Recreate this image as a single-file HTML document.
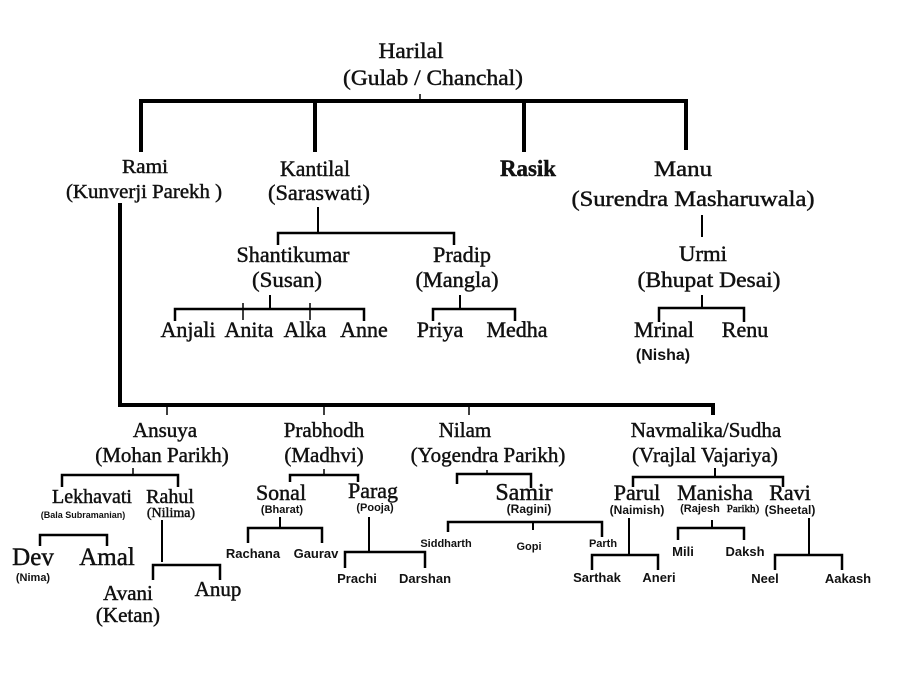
<!DOCTYPE html>
<html><head><meta charset="utf-8"><style>
html,body{margin:0;padding:0;background:#fff;}
svg{display:block;}
.s{font-family:"Liberation Serif",serif;fill:#111;stroke:#111;stroke-width:0.45;}
.b{font-family:"Liberation Sans",sans-serif;font-weight:bold;fill:#111;}
</style></head><body>
<svg width="900" height="700" viewBox="0 0 900 700" xmlns="http://www.w3.org/2000/svg">
<rect width="900" height="700" fill="#fff"/>
<g stroke="#000" fill="none">
<line x1="420" y1="94" x2="420" y2="101" stroke-width="1.5"/>
<path d="M141 152 V101 H686 V150" stroke-width="4"/>
<line x1="315" y1="101" x2="315" y2="152" stroke-width="4"/>
<line x1="524" y1="101" x2="524" y2="152" stroke-width="4"/>
<line x1="318" y1="207" x2="318" y2="233" stroke-width="2"/>
<path d="M278 245 V233 H454 V245" stroke-width="2.5"/>
<line x1="270" y1="295" x2="270" y2="309" stroke-width="2"/>
<path d="M175 321 V309 H364 V321" stroke-width="2.5"/>
<line x1="243" y1="303" x2="243" y2="320" stroke-width="1.5"/>
<line x1="310" y1="303" x2="310" y2="320" stroke-width="1.5"/>
<line x1="460" y1="295" x2="460" y2="309" stroke-width="2"/>
<path d="M433 321 V309 H515 V321" stroke-width="2.5"/>
<line x1="702" y1="215" x2="702" y2="237" stroke-width="2"/>
<line x1="702" y1="295" x2="702" y2="308" stroke-width="2"/>
<path d="M659 322 V308 H744 V322" stroke-width="2.5"/>
<path d="M120 203 V405 H713 V415" stroke-width="4"/>
<line x1="167" y1="405" x2="167" y2="415" stroke-width="1.5"/>
<line x1="324" y1="405" x2="324" y2="415" stroke-width="1.5"/>
<line x1="469" y1="405" x2="469" y2="415" stroke-width="1.5"/>
<line x1="133" y1="468" x2="133" y2="475" stroke-width="1.5"/>
<path d="M62 487 V475 H178 V487" stroke-width="2.5"/>
<path d="M40 546 V535 H107 V546" stroke-width="2.5"/>
<line x1="162" y1="520" x2="162" y2="562" stroke-width="2"/>
<path d="M153 580 V565 H220 V580" stroke-width="2.5"/>
<line x1="324" y1="469" x2="324" y2="475" stroke-width="1.5"/>
<path d="M290 482 V475 H358 V482" stroke-width="2.5"/>
<line x1="280" y1="517" x2="280" y2="528" stroke-width="2"/>
<path d="M248 543 V528 H322 V543" stroke-width="2.5"/>
<line x1="369" y1="517" x2="369" y2="552" stroke-width="2"/>
<path d="M345 568 V552 H425 V568" stroke-width="2.5"/>
<line x1="487" y1="470" x2="487" y2="474" stroke-width="1.5"/>
<path d="M457 484 V474 H531 V488" stroke-width="2.5"/>
<path d="M448 532 V522 H602 V537" stroke-width="2.5"/>
<line x1="533" y1="522" x2="533" y2="530" stroke-width="2"/>
<line x1="715" y1="468" x2="715" y2="477" stroke-width="2"/>
<path d="M633 487 V477 H783 V487" stroke-width="2.5"/>
<line x1="629" y1="518" x2="629" y2="555" stroke-width="2"/>
<path d="M592 570 V555 H658 V570" stroke-width="2.5"/>
<line x1="712" y1="520" x2="712" y2="528" stroke-width="2"/>
<path d="M678 540 V528 H744 V540" stroke-width="2.5"/>
<line x1="809" y1="518" x2="809" y2="555" stroke-width="2"/>
<path d="M775 570 V555 H842 V570" stroke-width="2.5"/>
</g>
<g class="s" text-anchor="middle" font-size="22">
<text x="411" y="58" textLength="65" lengthAdjust="spacingAndGlyphs">Harilal</text>
<text x="433" y="85" textLength="180" lengthAdjust="spacingAndGlyphs">(Gulab / Chanchal)</text>
<text x="145" y="173" font-size="20" textLength="46" lengthAdjust="spacingAndGlyphs">Rami</text>
<text x="144" y="198" font-size="20" textLength="156" lengthAdjust="spacingAndGlyphs">(Kunverji Parekh )</text>
<text x="315" y="176" textLength="70" lengthAdjust="spacingAndGlyphs">Kantilal</text>
<text x="319" y="200" textLength="102" lengthAdjust="spacingAndGlyphs">(Saraswati)</text>
<text x="528" y="176" font-weight="bold" font-size="23" textLength="56" lengthAdjust="spacingAndGlyphs">Rasik</text>
<text x="683" y="176" textLength="58" lengthAdjust="spacingAndGlyphs">Manu</text>
<text x="693" y="206" textLength="243" lengthAdjust="spacingAndGlyphs">(Surendra Masharuwala)</text>
<text x="293" y="262" textLength="113" lengthAdjust="spacingAndGlyphs">Shantikumar</text>
<text x="287" y="287" textLength="70" lengthAdjust="spacingAndGlyphs">(Susan)</text>
<text x="462" y="262" textLength="58" lengthAdjust="spacingAndGlyphs">Pradip</text>
<text x="457" y="287" textLength="83" lengthAdjust="spacingAndGlyphs">(Mangla)</text>
<text x="703" y="261" textLength="48" lengthAdjust="spacingAndGlyphs">Urmi</text>
<text x="709" y="287" textLength="143" lengthAdjust="spacingAndGlyphs">(Bhupat Desai)</text>
<text x="188" y="337">Anjali</text>
<text x="249" y="337">Anita</text>
<text x="305" y="337">Alka</text>
<text x="364" y="337">Anne</text>
<text x="440" y="337">Priya</text>
<text x="517" y="337">Medha</text>
<text x="664" y="337">Mrinal</text>
<text x="745" y="337">Renu</text>
<text x="165" y="437" font-size="21">Ansuya</text>
<text x="162" y="462" font-size="21">(Mohan Parikh)</text>
<text x="324" y="437" font-size="21">Prabhodh</text>
<text x="324" y="462" font-size="21">(Madhvi)</text>
<text x="465" y="437" font-size="21">Nilam</text>
<text x="488" y="462" font-size="21">(Yogendra Parikh)</text>
<text x="706" y="437" font-size="21">Navmalika/Sudha</text>
<text x="705" y="462" font-size="21">(Vrajlal Vajariya)</text>
<text x="92" y="503" font-size="20">Lekhavati</text>
<text x="170" y="503" font-size="20">Rahul</text>
<text x="171" y="517" font-size="14">(Nilima)</text>
<text x="33" y="565" font-size="25">Dev</text>
<text x="107" y="565" font-size="25">Amal</text>
<text x="128" y="600" font-size="21">Avani</text>
<text x="128" y="622" font-size="21">(Ketan)</text>
<text x="218" y="596" font-size="21">Anup</text>
<text x="281" y="500" font-size="22">Sonal</text>
<text x="373" y="498" font-size="22">Parag</text>
<text x="524" y="500" font-size="24">Samir</text>
<text x="637" y="500" font-size="22">Parul</text>
<text x="715" y="500" font-size="22">Manisha</text>
<text x="790" y="500" font-size="22">Ravi</text>
<text x="743" y="512" font-size="11">Parikh)</text>
</g>
<g class="b" text-anchor="middle" font-size="13">
<text x="663" y="360" font-size="16">(Nisha)</text>
<text x="83" y="518" font-size="9">(Bala Subramanian)</text>
<text x="33" y="581" font-size="11">(Nima)</text>
<text x="282" y="513" font-size="11">(Bharat)</text>
<text x="375" y="511" font-size="11">(Pooja)</text>
<text x="529" y="513" font-size="12">(Ragini)</text>
<text x="637" y="514" font-size="12">(Naimish)</text>
<text x="700" y="512" font-size="11">(Rajesh</text>
<text x="790" y="514" font-size="12">(Sheetal)</text>
<text x="253" y="558">Rachana</text>
<text x="316" y="558">Gaurav</text>
<text x="357" y="583">Prachi</text>
<text x="425" y="583">Darshan</text>
<text x="446" y="547" font-size="11">Siddharth</text>
<text x="529" y="550" font-size="11">Gopi</text>
<text x="603" y="547" font-size="11">Parth</text>
<text x="597" y="582">Sarthak</text>
<text x="659" y="582">Aneri</text>
<text x="683" y="556" font-size="13">Mili</text>
<text x="745" y="556" font-size="13">Daksh</text>
<text x="765" y="583" font-size="13">Neel</text>
<text x="848" y="583" font-size="13">Aakash</text>
</g>
</svg>
</body></html>
